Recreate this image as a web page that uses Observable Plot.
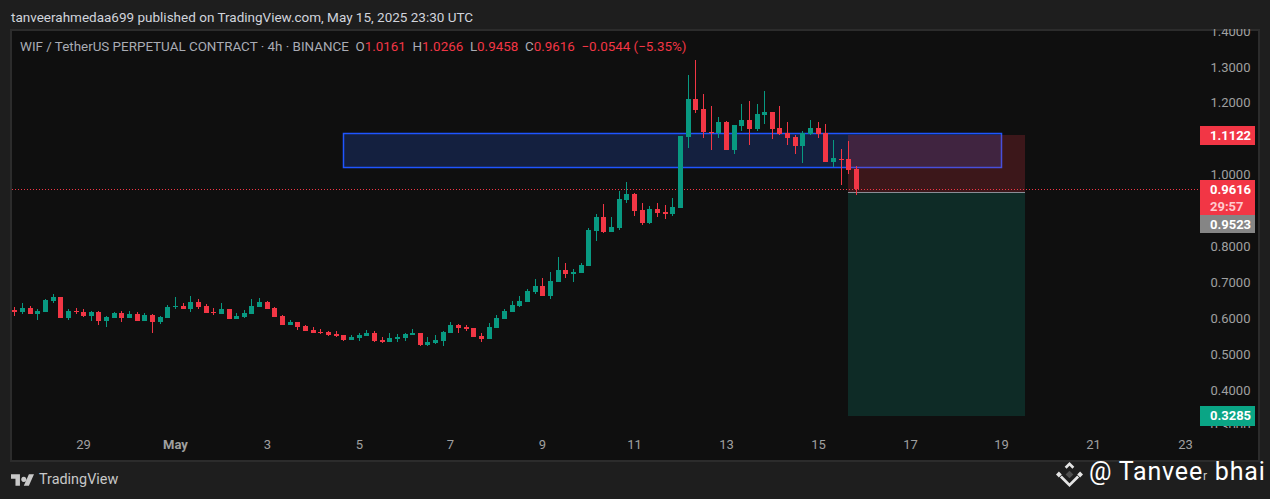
<!DOCTYPE html>
<html>
<head>
<meta charset="utf-8">
<script src="https://cdn.jsdelivr.net/npm/d3@7"></script>
<script src="https://cdn.jsdelivr.net/npm/@observablehq/plot@0.6"></script>
<style>
html,body{margin:0;padding:0;background:#1e1e1e;width:1270px;height:499px;overflow:hidden;font-family:Roboto,sans-serif}
#wrap{position:relative;width:1270px;height:499px}
#pane{position:absolute;left:10px;top:29px;width:1246px;height:429px;background:#0f0f0f;border:2px solid #2c2c2c}
#chart{position:absolute;left:0;top:0}
#chart svg{display:block}
#topbar{position:absolute;left:0;top:0;width:1270px;height:29px;background:#1e1e1e;border-bottom:0}
#head{position:absolute;left:11px;top:9px;font-size:13.5px;line-height:16px;color:#d1d4dc;white-space:nowrap}
#legend{position:absolute;left:20px;top:39px;font-size:13.4px;line-height:16px;color:#a9acb4;white-space:pre}
#legend b{font-weight:400;color:#f23645}
#tv{position:absolute;left:11px;top:471px;font-size:14.4px;line-height:18px;color:#c8c8c8;display:flex;align-items:center;gap:5px}
#mark{position:absolute;left:1056px;top:458px;font-size:25px;line-height:28px;color:#fff;white-space:nowrap;display:flex;align-items:center;gap:6px;letter-spacing:.8px}
#mark small{font-size:12px;color:#ccc}
</style>
</head>
<body>
<div id="wrap">
  <div id="pane"></div>
  <div id="chart"></div>
  <div id="topbar"></div>
  <div id="head">tanveerahmedaa699 published on TradingView.com, May 15, 2025 23:30 UTC</div>
  <div id="legend">WIF / TetherUS PERPETUAL CONTRACT · 4h · BINANCE  O<b>1.0161</b>  H<b>1.0266</b>  L<b>0.9458</b>  C<b>0.9616</b>  <b>−0.0544 (−5.35%)</b></div>
  <div id="tv"><svg width="23" height="12" viewBox="0 0 36 18"><path fill="#c8c8c8" d="M0 0h14v18H7V7H0zM28 0h8l-8 18h-8zM20 4a4 4 0 1 1-.01 0z"/></svg><span>TradingView</span></div>
  <div id="mark"><svg width="27" height="27" viewBox="0 0 28 28"><g fill="#e4e4e4"><path d="M14 1l5 5-2 2-3-3-3 3-2-2z"/><path d="M3 11l3 3-3 3-3-3zM25 11l3 3-3 3-3-3z"/><path d="M14 10l4 4-4 4-4-4z" opacity=".25"/><path d="M6 15l8 8 8-8 2 2-10 10L4 17z"/></g></svg><span>@ Tanvee<small>r</small> bhai</span></div>
</div>
<script>
// 4h candles, first one opens 27 Apr 2025 12:00 UTC
const firstCandle = Date.UTC(2025, 3, 27, 12);
const opens = [.6245,.6189,.6300,.6133,.6189,.6495,.6607,.6022,.6217,.6189,.6077,.6189,.5938,.6022,.6161,.6022,.6133,.5938,.6105,.5910,.6022,.6328,.6356,.6272,.6468,.6356,.6189,.6133,.6272,.5994,.6050,.6133,.6328,.6468,.6300,.6077,.5827,.5910,.5799,.5687,.5632,.5632,.5576,.5548,.5409,.5465,.5520,.5604,.5409,.5353,.5437,.5465,.5548,.5604,.5270,.5325,.5381,.5604,.5827,.5771,.5743,.5520,.5437,.5743,.5994,.6189,.6356,.6468,.6746,.6913,.6635,.7025,.7359,.7248,.7275,.7470,.8445,.8836,.8418,.8529,.9309,.9476,.9031,.8668,.9058,.8975,.8919,.9086,1.1064,1.2122,1.1844,1.1203,1.1175,1.1481,1.0701,1.1370,1.1537,1.1286,1.1676,1.1760,1.1314,1.1175,1.1064,1.0813,1.1147,1.1314,1.1175,1.0367,1.0451,1.0451,1.0161];
const highs = [.6328,.6440,.6356,.6272,.6551,.6690,.6607,.6272,.6300,.6272,.6217,.6217,.6077,.6189,.6217,.6217,.6189,.6161,.6133,.6077,.6384,.6607,.6440,.6635,.6551,.6412,.6300,.6440,.6272,.6161,.6245,.6551,.6579,.6495,.6328,.6105,.5966,.5910,.5827,.5771,.5715,.5660,.5660,.5548,.5548,.5604,.5687,.5660,.5492,.5604,.5576,.5604,.5715,.5604,.5492,.5548,.5660,.5910,.5855,.5827,.5743,.5604,.5882,.6105,.6272,.6495,.6635,.6830,.7108,.7136,.7303,.7721,.7554,.7387,.7554,.8529,.8919,.9198,.8836,.9560,.9811,.9504,.9226,.9142,.9226,.9170,.9365,1.1092,1.2791,1.3209,1.2261,1.1927,1.1621,1.1509,1.1398,1.1983,1.2066,1.1983,1.2345,1.1760,1.1927,1.1481,1.1119,1.1231,1.1537,1.1481,1.1426,1.0980,1.0729,1.0952,1.0266];
const lows = [.6077,.6133,.6133,.5966,.6189,.6440,.6022,.5966,.6133,.6050,.5938,.5827,.5771,.6022,.5910,.6022,.5938,.5938,.5604,.5855,.6022,.6272,.6272,.6189,.6272,.6161,.6105,.6133,.5994,.5994,.6022,.6133,.6328,.6272,.6050,.5827,.5827,.5687,.5660,.5604,.5576,.5520,.5492,.5381,.5409,.5381,.5520,.5353,.5325,.5353,.5353,.5381,.5548,.5242,.5242,.5297,.5242,.5604,.5604,.5660,.5492,.5353,.5437,.5743,.5994,.6189,.6328,.6468,.6690,.6635,.6551,.7025,.7136,.7025,.7275,.7470,.8167,.8390,.8418,.8473,.9226,.8863,.8613,.8641,.8836,.8780,.8863,.9086,1.0757,1.1732,1.1036,1.0701,1.1036,1.0701,1.0590,1.1231,1.0841,1.1231,1.1426,1.1008,1.1119,1.0841,1.0590,1.0339,1.1119,1.1036,1.0367,1.0228,.9726,1.0033,.9458];
const closes = [.6189,.6300,.6133,.6217,.6523,.6607,.6022,.6217,.6189,.6077,.6189,.5938,.6050,.6161,.6022,.6133,.5938,.6105,.5910,.6050,.6328,.6356,.6272,.6468,.6328,.6161,.6161,.6272,.5994,.6077,.6161,.6356,.6468,.6272,.6050,.5827,.5910,.5771,.5660,.5604,.5604,.5548,.5520,.5409,.5492,.5548,.5604,.5381,.5353,.5465,.5492,.5576,.5604,.5270,.5353,.5409,.5632,.5827,.5743,.5715,.5492,.5437,.5771,.6022,.6217,.6384,.6495,.6774,.6913,.6635,.7053,.7359,.7248,.7303,.7498,.8473,.8836,.8418,.8557,.9337,.9476,.9003,.8668,.9058,.8947,.8919,.9114,1.1092,1.2122,1.1816,1.1203,1.1175,1.1481,1.0701,1.1398,1.1537,1.1286,1.1704,1.1760,1.1286,1.1147,1.1036,1.0813,1.1175,1.1314,1.1147,1.0367,1.0478,1.0423,1.0144,.9616];

const upColor = "#089981", downColor = "#f23645";
const yTicks = [1.4,1.3,1.2,1.0,.8,.7,.6,.5,.4,.3];
const dayTicks = [[3,29],[4,3],[4,5],[4,7],[4,9],[4,11],[4,13],[4,15],[4,17],[4,19],[4,21],[4,23]].map(([m,d]) => new Date(Date.UTC(2025,m,d)));
const monthTicks = [new Date(Date.UTC(2025,4,1))];

const stop = 1.1122, entry = .9523, target = .3285, last = .9616;
const posStart = new Date(Date.UTC(2025,4,15,16)), posEnd = new Date(Date.UTC(2025,4,19,12,30));
const zone = [{x1:new Date(Date.UTC(2025,4,4,16)), x2:new Date(Date.UTC(2025,4,19,0)), y1:1.0228, y2:1.1175}];
const redZone = [{x1:posStart, x2:posEnd, y1:entry, y2:stop}];
const greenZone = [{x1:posStart, x2:posEnd, y1:target, y2:entry}];

const candles = opens.map((o,i) => ({t:new Date(firstCandle + i*4*3600e3), o, h:highs[i], l:lows[i], c:closes[i]}));
const col = d => d.c >= d.o ? upColor : downColor;
const axisCommon = {tickSize:0, fill:"#a0a0a0", fontSize:13, label:null};

const chart = Plot.plot({
  width:1270, height:499,
  marginLeft:12, marginRight:72, marginTop:30, marginBottom:69,
  style:{background:"transparent", fontFamily:"Roboto,sans-serif", overflow:"visible"},
  x:{type:"utc", domain:[new Date(Date.UTC(2025,3,27,10,48)), new Date(Date.UTC(2025,4,23,6,48))], round:true},
  y:{domain:[.2903,1.4045], round:true},
  marks:[
    Plot.axisY({...axisCommon, anchor:"right", ticks:yTicks, tickFormat:".4f", tickPadding:12, dy:-0.6}),
    Plot.axisX({...axisCommon, ticks:dayTicks, tickFormat:d => String(d.getUTCDate()), tickPadding:9}),
    Plot.axisX({...axisCommon, ticks:monthTicks, tickFormat:() => "May", tickPadding:9, fontWeight:"bold"}),
    Plot.rect(greenZone, {x1:"x1", x2:"x2", y1:"y1", y2:"y2", fill:upColor, fillOpacity:.2}),
    Plot.rect(zone, {x1:"x1", x2:"x2", y1:"y1", y2:"y2", fill:"#2962ff", fillOpacity:.2, stroke:"#1f55ff", strokeWidth:1.5, dx:0.5, dy:0.5}),
    Plot.rect(redZone, {x1:"x1", x2:"x2", y1:"y1", y2:"y2", fill:downColor, fillOpacity:.2}),
    Plot.ruleY([entry], {x1:posStart, x2:posEnd, stroke:"#8a8d96", strokeWidth:1}),
    Plot.ruleY([last], {stroke:downColor, strokeWidth:1, strokeDasharray:"1,2"}),
    Plot.ruleX(candles, {x:"t", y1:"l", y2:"h", stroke:col, strokeWidth:1}),
    Plot.ruleX(candles, {x:"t", y1:"o", y2:"c", stroke:col, strokeWidth:5})
  ]
});
document.getElementById("chart").append(chart);

// price tags on the right axis, placed through the y scale
const yScale = chart.scale("y");
const tags = d3.select(chart).append("g").attr("font-family","Roboto,sans-serif").attr("font-size",13).attr("font-weight",700);
// the axis strip below the price pane hides the lower part of the lowest tick label, as in the reference
tags.append("rect").attr("x",1200).attr("y",428).attr("width",55).attr("height",8).attr("fill","#0f0f0f");
const tag = (value, shift, h, fill, lines) => {
  const top = yScale.apply(value) + shift;
  tags.append("rect").attr("x",1200).attr("y",top).attr("width",55).attr("height",h).attr("fill",fill);
  lines.forEach(([txt,color],i) => tags.append("text").attr("x",1210).attr("y",top + 9.5 + i*17).attr("dy","0.35em").attr("text-anchor","start").attr("fill",color).text(txt));
};
tag(stop, -9, 19, downColor, [["1.1122","#fff"]]);
tag(last, -9, 35, downColor, [["0.9616","#fff"],["29:57","#ffc9ce"]]);
tag(entry, 23, 18, "#858585", [["0.9523","#fff"]]);
tag(target, -10, 20, "#0aa585", [["0.3285","#fff"]]);
</script>
</body>
</html>
